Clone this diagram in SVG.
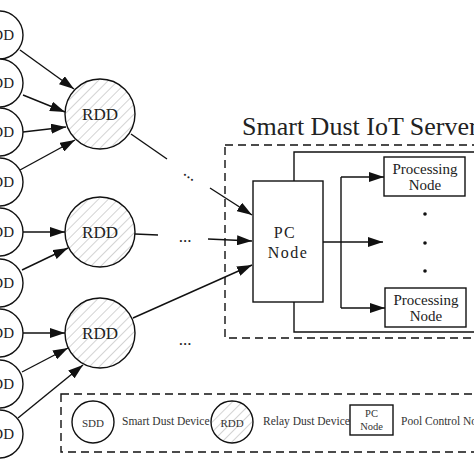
<svg xmlns="http://www.w3.org/2000/svg" width="474" height="474" viewBox="0 0 474 474">
<defs>
<pattern id="hatch" patternUnits="userSpaceOnUse" width="7" height="7" patternTransform="rotate(45)">
<rect width="7" height="7" fill="#fff"/>
<line x1="0" y1="0" x2="0" y2="7" stroke="#c8c8c8" stroke-width="1.6"/>
</pattern>
<marker id="arr" markerWidth="15" markerHeight="10" refX="15" refY="5" orient="auto" markerUnits="userSpaceOnUse">
<path d="M0,0 L15,5 L0,10 z" fill="#111"/>
</marker>
<style>
.sdd{fill:#fff;stroke:#111;stroke-width:1.4}
.rdd{fill:url(#hatch);stroke:#111;stroke-width:1.4}
.box{fill:#fff;stroke:#111;stroke-width:1.4}
.ln{fill:none;stroke:#111;stroke-width:1.4}
.ar{fill:none;stroke:#111;stroke-width:1.4;marker-end:url(#arr)}
.dash{fill:none;stroke:#111;stroke-width:1.4;stroke-dasharray:8 5}
.t{font-family:"Liberation Serif","Times New Roman",serif;fill:#222;text-anchor:middle}
.lt{font-family:"Liberation Serif","Times New Roman",serif;fill:#333;font-size:11.5px}
</style>
</defs>
<rect width="474" height="474" fill="#fff"/>

<g id="server-frame">
<rect class="dash" x="225" y="145" width="280" height="193"/>
<text class="t" x="242" y="135" style="text-anchor:start;font-size:26px">Smart Dust IoT Server</text>
</g>

<g id="connectors">
<line class="ar" x1="20" y1="50" x2="74" y2="89"/>
<line class="ar" x1="23" y1="95" x2="65" y2="112"/>
<line class="ar" x1="23" y1="132" x2="66" y2="127"/>
<line class="ar" x1="20" y1="170" x2="75" y2="140"/>
<line class="ar" x1="23" y1="232" x2="65" y2="232"/>
<line class="ar" x1="22" y1="270" x2="68" y2="248"/>
<line class="ar" x1="23" y1="333" x2="65" y2="333"/>
<line class="ar" x1="22" y1="372" x2="68" y2="348"/>
<line class="ar" x1="18" y1="418" x2="83" y2="365"/>
<line class="ln" x1="131" y1="134" x2="167" y2="159"/>
<line class="ar" x1="210" y1="188" x2="252" y2="215"/>
<line class="ln" x1="135" y1="234" x2="158" y2="235"/>
<line class="ar" x1="208" y1="239" x2="252" y2="241"/>
<line class="ar" x1="133" y1="318" x2="252" y2="265"/>
<path class="ln" d="M294,181 V152 H480"/>
<path class="ln" d="M294,302 V332 H480"/>
<line class="ar" x1="323" y1="242" x2="383" y2="242"/>
<line class="ln" x1="341" y1="177" x2="341" y2="308"/>
<line class="ar" x1="341" y1="177" x2="384" y2="177"/>
<line class="ar" x1="341" y1="308" x2="385" y2="308"/>
<text class="t" x="0" y="0" transform="translate(188,178) rotate(35)" style="font-size:17px">...</text>
<text class="t" x="185" y="242" style="font-size:17px">...</text>
<text class="t" x="185" y="345" style="font-size:17px">...</text>
<circle cx="425" cy="214" r="1.8" fill="#111"/>
<circle cx="425" cy="243" r="1.8" fill="#111"/>
<circle cx="425" cy="271" r="1.8" fill="#111"/>
</g>

<g id="sdd1"><circle class="sdd" cx="-1" cy="35" r="24"/><text class="t" x="-1" y="40" style="font-size:15px">SDD</text></g>
<g id="sdd2"><circle class="sdd" cx="-1" cy="83" r="24"/><text class="t" x="-1" y="88" style="font-size:15px">SDD</text></g>
<g id="sdd3"><circle class="sdd" cx="-1" cy="132" r="24"/><text class="t" x="-1" y="137" style="font-size:15px">SDD</text></g>
<g id="sdd4"><circle class="sdd" cx="-1" cy="182" r="24"/><text class="t" x="-1" y="187" style="font-size:15px">SDD</text></g>
<g id="sdd5"><circle class="sdd" cx="-1" cy="232" r="24"/><text class="t" x="-1" y="237" style="font-size:15px">SDD</text></g>
<g id="sdd6"><circle class="sdd" cx="-1" cy="283" r="24"/><text class="t" x="-1" y="288" style="font-size:15px">SDD</text></g>
<g id="sdd7"><circle class="sdd" cx="-1" cy="333" r="24"/><text class="t" x="-1" y="338" style="font-size:15px">SDD</text></g>
<g id="sdd8"><circle class="sdd" cx="-1" cy="384" r="24"/><text class="t" x="-1" y="389" style="font-size:15px">SDD</text></g>
<g id="sdd9"><circle class="sdd" cx="-1" cy="434" r="24"/><text class="t" x="-1" y="439" style="font-size:15px">SDD</text></g>

<g id="rdd1"><circle class="rdd" cx="100" cy="114" r="35"/><text class="t" x="100" y="120" style="font-size:17px">RDD</text></g>
<g id="rdd2"><circle class="rdd" cx="100" cy="232" r="35"/><text class="t" x="100" y="238" style="font-size:17px">RDD</text></g>
<g id="rdd3"><circle class="rdd" cx="100" cy="333" r="35"/><text class="t" x="100" y="339" style="font-size:17px">RDD</text></g>

<g id="pc-node">
<rect class="box" x="253" y="181" width="70" height="121"/>
<text class="t" x="285" y="238" style="font-size:16px;letter-spacing:1.5px">PC</text>
<text class="t" x="288" y="258" style="font-size:16px;letter-spacing:1.5px">Node</text>
</g>

<g id="processing-node-1">
<rect class="box" x="384" y="157" width="81" height="39"/>
<text class="t" x="425" y="174" style="font-size:15px">Processing</text>
<text class="t" x="425" y="190" style="font-size:15px">Node</text>
</g>
<g id="processing-node-2">
<rect class="box" x="385" y="288" width="81" height="39"/>
<text class="t" x="426" y="305" style="font-size:15px">Processing</text>
<text class="t" x="426" y="321" style="font-size:15px">Node</text>
</g>

<g id="legend">
<rect class="dash" x="61" y="394" width="440" height="58"/>
<circle class="sdd" cx="93" cy="422" r="21"/>
<text class="t" x="93" y="427" style="font-size:11px;fill:#333">SDD</text>
<text class="lt" x="122" y="425">Smart Dust Device</text>
<circle class="rdd" cx="232" cy="422" r="21"/>
<text class="t" x="232" y="427" style="font-size:11px;fill:#333">RDD</text>
<text class="lt" x="263" y="425">Relay Dust Device</text>
<rect class="box" x="350" y="405" width="43" height="30"/>
<text class="t" x="371.5" y="417" style="font-size:10.5px;fill:#333">PC</text>
<text class="t" x="371.5" y="430" style="font-size:10.5px;fill:#333">Node</text>
<text class="lt" x="401" y="425">Pool Control Node</text>
</g>
</svg>
